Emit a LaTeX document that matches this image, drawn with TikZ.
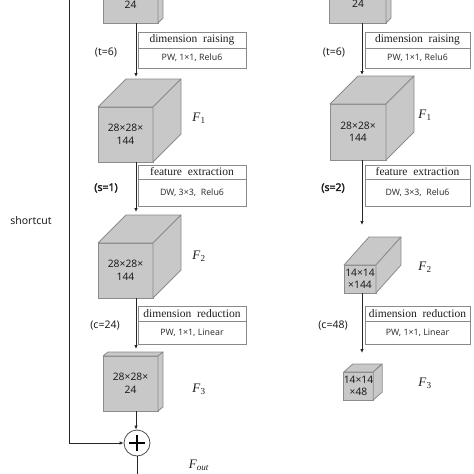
\documentclass[tikz,border=0pt]{standalone}
\usepackage{fontspec}
\setmainfont{Liberation Serif}
\newfontfamily\sansf{Noto Sans}
\newfontfamily\sansbf[FakeBold=2.5]{Noto Sans}
\usetikzlibrary{arrows.meta,calc}
\definecolor{cubefill}{HTML}{C8C8C8}
\definecolor{cubeedge}{HTML}{8C8C8C}
\definecolor{boxedge}{HTML}{8A8A8A}
\definecolor{txt}{HTML}{1E1E1E}
\newcommand\mycube[8]{% name, cx, cy, w, h, dx, dy, text
  \node[face, minimum width=#4pt, minimum height=#5pt] (#1) at (#2,#3) {#8};
  \draw[cubeside] (#1.north west) -- ++(#6,-#7) -- ++(#4,0) -- (#1.north east) -- cycle;
  \draw[cubeside] (#1.north east) -- ++(#6,-#7) -- ++(0,#5) -- (#1.south east) -- cycle;
}
\begin{document}
\begin{tikzpicture}[x=1pt,y=-1pt,
  face/.style={draw=cubeedge, fill=cubefill, line width=0.8pt, inner sep=0pt, outer sep=0pt,
    text=txt, font=\sansf\fontsize{10.3}{12.5}\selectfont, align=center},
  cubeside/.style={draw=cubeedge, fill=cubefill, line width=0.8pt, line join=round},
  cubetxt/.style={text=txt, font=\sansf\fontsize{10.3}{12}\selectfont, inner sep=0pt},
  arr/.style={draw=black!85, line width=0.9pt, -{Latex[length=4pt,width=3.5pt]}},
  ln/.style={draw=black!85, line width=0.9pt},
  hdr/.style={draw=boxedge, line width=1pt, fill=white, inner sep=0pt, outer sep=0pt,
    font=\fontsize{11.5}{12}\selectfont, text=txt},
  bdy/.style={draw=boxedge, line width=1pt, fill=white, inner sep=0pt, outer sep=0pt,
    font=\sansf\fontsize{8.8}{10}\selectfont, text=txt!90},
  lab/.style={font=\sansf\fontsize{10.5}{12}\selectfont, text=txt, inner sep=0pt},
  blab/.style={font=\sansbf\fontsize{10.5}{12}\selectfont, text=txt, inner sep=0pt},
  flab/.style={font=\fontsize{13}{14}\selectfont, text=txt, inner sep=0pt}
]
\useasboundingbox (0,0) rectangle (474,474);
\clip (0,0) rectangle (474,474);

% ---------- left column ----------
\mycube{topL}{130.5}{-2.5}{55}{51}{5}{5}{}
\node[cubetxt] (topLt) at (130.5,5) {24};
\mycube{FoneL}{125.5}{134.5}{55}{55}{28}{28}{28×28×\\144}
\mycube{FtwoL}{125.5}{270.5}{55}{55}{28}{28}{28×28×\\144}
\mycube{FthrL}{130.5}{383.5}{55}{55}{5}{4}{28×28×\\24}

\coordinate (aL1) at (136,77);
\coordinate (aL2) at (136,212);
\coordinate (aL3) at (136,349);
\node[draw=black!70, line width=0.8pt, circle, minimum size=26pt, inner sep=0pt, fill=white] (plus) at (137,443) {};
\draw[line width=1.4pt, black] (plus.center) ++(-8,0) -- ++(16,0);
\draw[line width=1.4pt, black] (plus.center) ++(0,-8) -- ++(0,16);
\coordinate (outL) at (137,480);
\coordinate (scTop) at (69,-10);
\coordinate (scBot) at (69,443);

\draw[arr] (topL.south -| aL1) -- (aL1);
\draw[arr] (FoneL.south -| aL2) -- (aL2);
\draw[arr] (FtwoL.south -| aL3) -- (aL3);
\draw[arr] (FthrL.south -| aL3) -- (plus.north -| aL3);
\draw[ln] (plus.south) -- (outL);
\draw[arr] (scTop) -- (scBot) -- (plus.west);

\node[hdr, minimum width=108pt, minimum height=16pt] (b1h) at (192,40) {dimension\ \ raising};
\node[bdy, minimum width=108pt, minimum height=20pt] (b1b) at (192,58) {PW, 1×1, Relu6};
\node[hdr, minimum width=108pt, minimum height=14pt] (b2h) at (192,172) {feature\ \ extraction};
\node[bdy, minimum width=108pt, minimum height=27pt] (b2b) at (192,192.5) {DW, 3×3,\ \ Relu6};
\node[hdr, minimum width=108pt, minimum height=15pt] (b3h) at (192,313.5) {dimension\ \ reduction};
\node[bdy, minimum width=108pt, minimum height=23pt] (b3b) at (192,332.5) {PW, 1×1, Linear};

\node[lab] (tL) at (106,53) {(t=6)};
\node[blab] (sL) at (106,188) {(s=1)};
\node[lab] (cL) at (105,326) {(c=24)};
\node[lab] (sc) at (31,221) {shortcut};
\node[flab] (f1L) at (199,118) {\textit{F}\textsubscript{1}};
\node[flab] (f2L) at (199,256) {\textit{F}\textsubscript{2}};
\node[flab] (f3L) at (199,389) {\textit{F}\textsubscript{3}};
\node[flab] (foL) at (199,465) {\textit{F}\textsubscript{\textit{out}}};

% ---------- right column ----------
\mycube{topR}{357.5}{-2.5}{57}{51}{5}{5}{}
\node[cubetxt] (topRt) at (358,4) {24};
\mycube{FoneR}{358}{132}{56}{56}{28}{28}{28×28×\\144}
\mycube{FtwoR}{360}{279}{32}{28}{25}{28}{14×14\\×144}
\mycube{FthrR}{358.5}{386}{29}{28}{9}{8}{14×14\\×48}

\coordinate (aR1) at (362,75);
\coordinate (aR2) at (362,225);
\coordinate (aR3) at (362,353);
\draw[arr] (topR.south -| aR1) -- (aR1);
\draw[arr] (FoneR.south -| aR2) -- (aR2);
\draw[arr] (FtwoR.south -| aR3) -- (aR3);

\node[hdr, minimum width=105pt, minimum height=16pt] (r1h) at (417.5,40) {dimension\ \ raising};
\node[bdy, minimum width=105pt, minimum height=20pt] (r1b) at (417.5,58) {PW, 1×1, Relu6};
\node[hdr, minimum width=105pt, minimum height=14pt] (r2h) at (417.5,172) {feature\ \ extraction};
\node[bdy, minimum width=105pt, minimum height=27pt] (r2b) at (417.5,192.5) {DW, 3×3,\ \ Relu6};
\node[hdr, minimum width=105pt, minimum height=15pt] (r3h) at (417.5,313.5) {dimension\ \ reduction};
\node[bdy, minimum width=105pt, minimum height=23pt] (r3b) at (417.5,332.5) {PW, 1×1, Linear};

\node[lab] (tR) at (334,53) {(t=6)};
\node[blab] (sR) at (333,188) {(s=2)};
\node[lab] (cR) at (333,326) {(c=48)};
\node[flab] (f1R) at (425,115) {\textit{F}\textsubscript{1}};
\node[flab] (f2R) at (425,267) {\textit{F}\textsubscript{2}};
\node[flab] (f3R) at (425,383) {\textit{F}\textsubscript{3}};
\end{tikzpicture}
\end{document}
